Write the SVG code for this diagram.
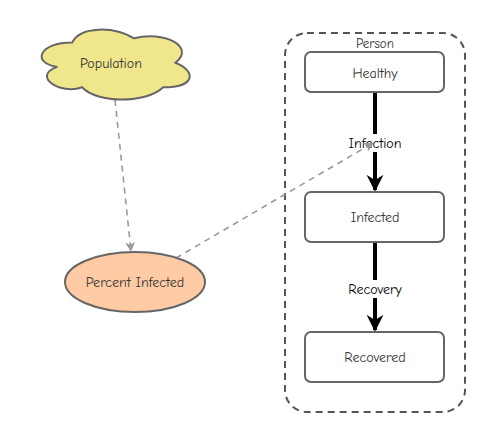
<svg xmlns="http://www.w3.org/2000/svg" width="489" height="434" viewBox="0 0 489 434">
<style>
text{font-family:"Comic Neue","Liberation Sans",sans-serif;font-size:14px;fill:#333;text-anchor:middle;dominant-baseline:central}
.box{fill:#fff;stroke:#666;stroke-width:2}
.flow{stroke:#000;stroke-width:4;fill:none}
.link{stroke:#999;stroke-width:1.6;stroke-dasharray:6 5;fill:none}
.lbl{fill:#000}
</style>
<defs>
<marker id="ah" viewBox="0 0 10 10" refX="9" refY="5" markerWidth="10" markerHeight="10" markerUnits="userSpaceOnUse" orient="auto">
<path d="M0,0 L10,5 L0,10 L3,5 Z" fill="#999"/>
</marker>
<marker id="bh" viewBox="0 0 10 10" refX="9" refY="5" markerWidth="4.2" markerHeight="5" orient="auto">
<path d="M0,0 L10,5 L0,10 L3,5 Z" fill="#000"/>
</marker>
</defs>
<g id="person">
<rect x="285" y="33" width="180" height="379" rx="22" fill="none" stroke="#555" stroke-width="2" stroke-dasharray="7 5"/>
<text x="375" y="43.5" style="font-size:13px">Person</text>
</g>
<g id="connectors">
<line class="flow" x1="375" y1="92" x2="375" y2="190" marker-end="url(#bh)"/>
<line class="flow" x1="375" y1="242" x2="375" y2="330" marker-end="url(#bh)"/>
<rect x="343" y="134" width="64" height="18" fill="#fff"/>
<text x="375" y="143" class="lbl">Infection</text>
<rect x="343" y="280" width="64" height="18" fill="#fff"/>
<text x="375" y="289" class="lbl">Recovery</text>
<line class="link" x1="115" y1="100" x2="131" y2="251" marker-end="url(#ah)"/>
<line class="link" x1="176" y1="258" x2="373" y2="143" marker-end="url(#ah)"/>
</g>
<g id="healthy">
<rect class="box" x="305" y="52" width="139" height="40" rx="6"/>
<text x="375" y="73">Healthy</text>
</g>
<g id="infected">
<rect class="box" x="305" y="192" width="139" height="50" rx="6"/>
<text x="375" y="217">Infected</text>
</g>
<g id="recovered">
<rect class="box" x="305" y="332" width="139" height="50" rx="6"/>
<text x="375" y="357">Recovered</text>
</g>
<g id="population">
<path transform="translate(113,64) scale(1.08,1.2) translate(-113,-65)" vector-effect="non-scaling-stroke" d="M75.25,47 C44.65,47 37,64 61.48,67.4 C37,74.9 64.5,91.2 84.4,84.4 C98.2,98 144.1,98 159.4,84.4 C190,84.4 190,70.8 170.9,64 C190,50.4 159.4,36.8 132.6,43.6 C113.5,33.4 82.9,33.4 75.25,47 Z" fill="#f0e68c" stroke="#666" stroke-width="2"/>
<text x="111" y="63">Population</text>
</g>
<g id="percent-infected">
<ellipse cx="135" cy="282" rx="70" ry="30" fill="#ffcba4" stroke="#666" stroke-width="2"/>
<text x="135" y="282">Percent Infected</text>
</g>
</svg>
